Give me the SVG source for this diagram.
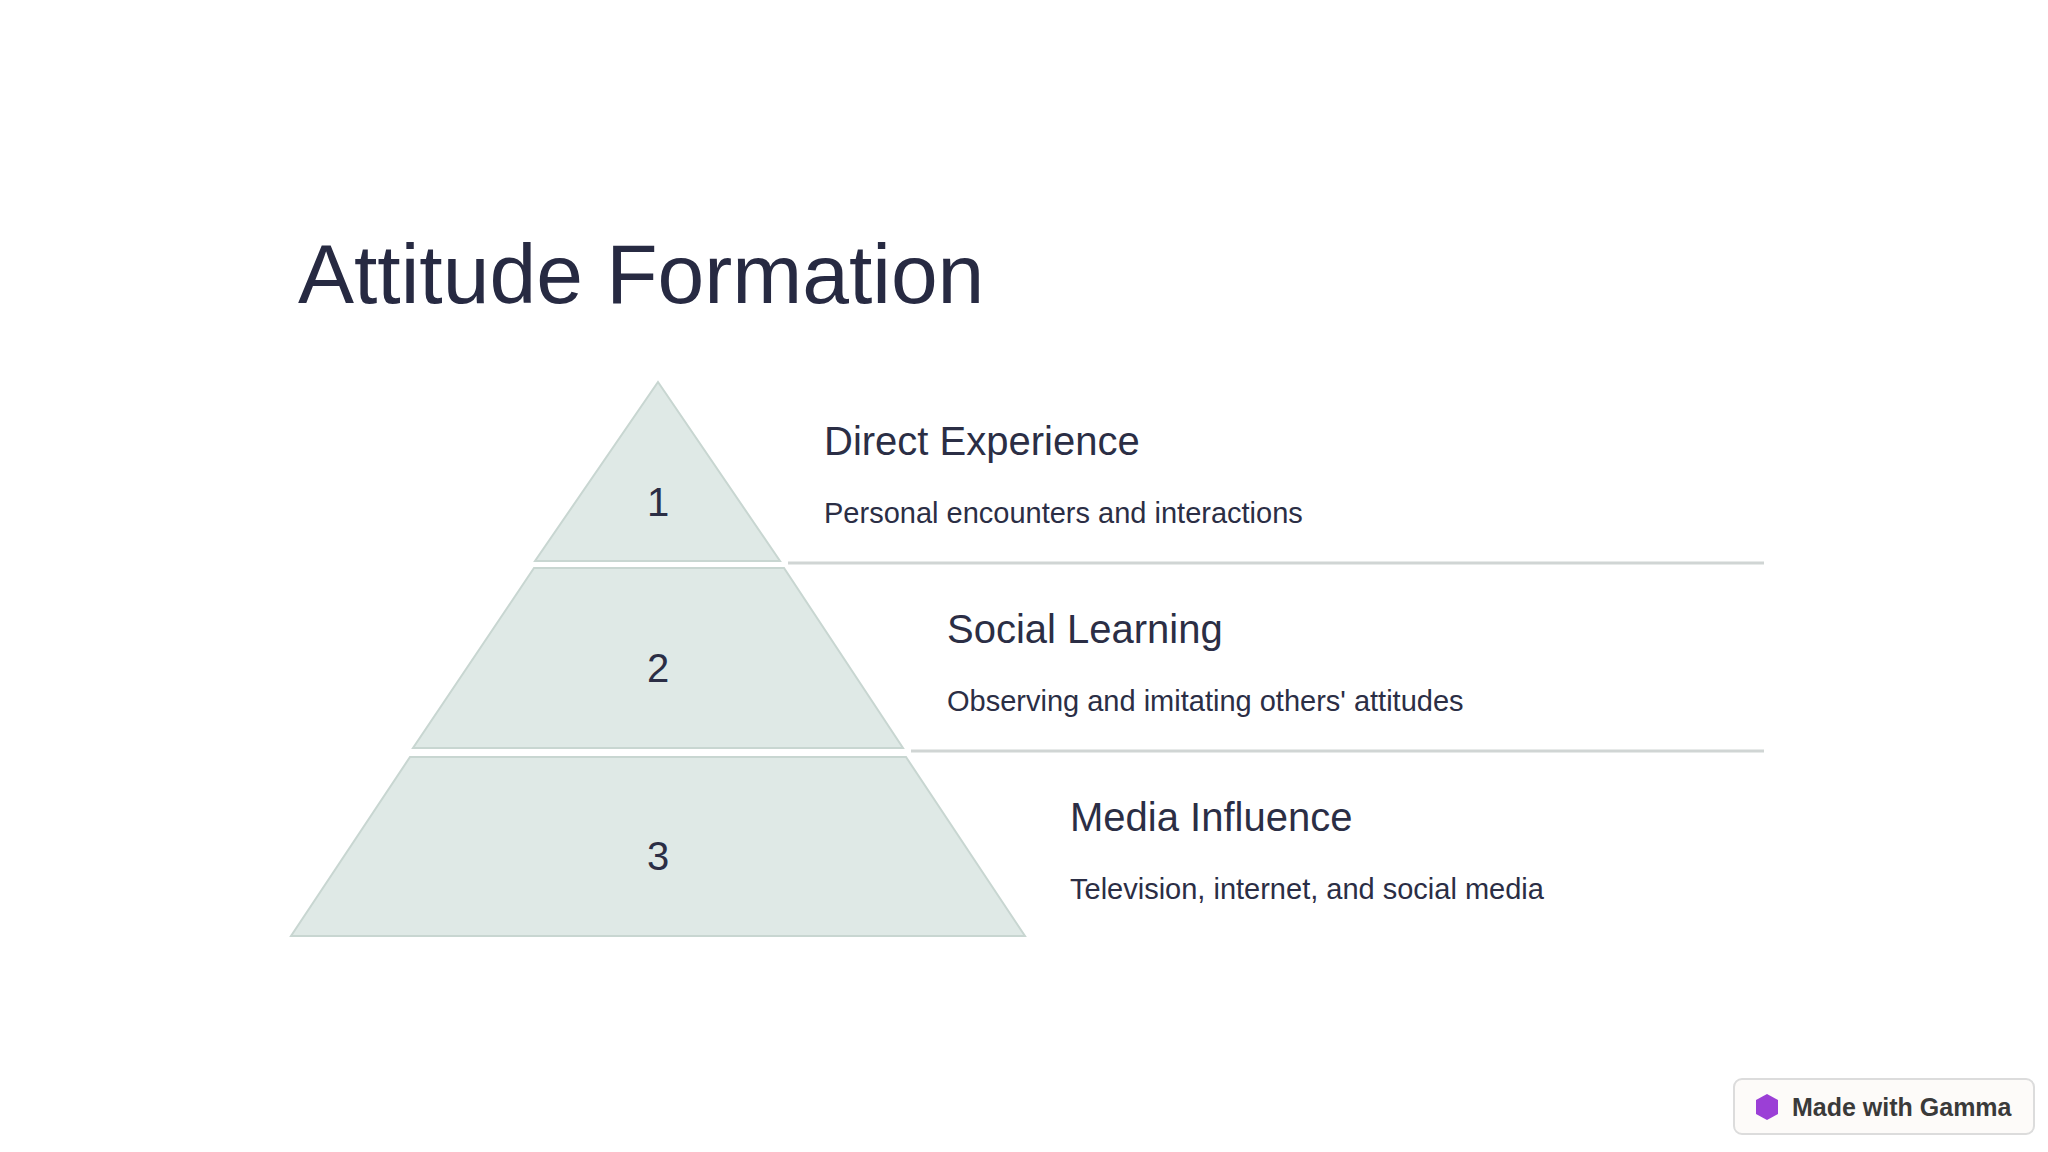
<svg xmlns="http://www.w3.org/2000/svg" width="2048" height="1152" viewBox="0 0 2048 1152">
<style>
.tier{fill:#dfe9e6;stroke:#c8d6d1;stroke-width:2}
.num{font-family:"Liberation Sans",Arial,sans-serif;font-size:40px;fill:#2b2e45;text-anchor:middle}
.h{font-family:"Liberation Sans",Arial,sans-serif;font-size:40px;fill:#2b2e45}
.d{font-family:"Liberation Sans",Arial,sans-serif;font-size:29px;fill:#2b2e45}
.sep{stroke:#d0d5d4;stroke-width:3}
</style>
<rect width="2048" height="1152" fill="#ffffff"/>
<text x="298" y="303" font-family="Liberation Sans,Arial,sans-serif" font-size="84" fill="#272a42">Attitude Formation</text>
<g id="tier1"><polygon class="tier" points="658,382 780,561 535,561"/><text class="num" x="658" y="516">1</text></g>
<g id="tier2"><polygon class="tier" points="534,568 784,568 903,748 413,748"/><text class="num" x="658" y="682">2</text></g>
<g id="tier3"><polygon class="tier" points="410,757 906,757 1025,936 291,936"/><text class="num" x="658" y="870">3</text></g>
<g id="connectors"><line class="sep" x1="788" y1="563" x2="1764" y2="563"/><line class="sep" x1="911" y1="751" x2="1764" y2="751"/></g>
<g id="label1"><text class="h" x="824" y="455">Direct Experience</text><text class="d" x="824" y="523">Personal encounters and interactions</text></g>
<g id="label2"><text class="h" x="947" y="643">Social Learning</text><text class="d" x="947" y="711">Observing and imitating others' attitudes</text></g>
<g id="label3"><text class="h" x="1070" y="831">Media Influence</text><text class="d" x="1070" y="899">Television, internet, and social media</text></g>
<g id="badge"><rect x="1734" y="1079" width="300" height="55" rx="8" fill="#fdfbf9" stroke="#dcdcdc" stroke-width="2"/><polygon points="1767,1094 1778,1100 1778,1114 1767,1120 1756,1114 1756,1100" fill="#9b3fd6"/><text x="1792" y="1116" font-family="Liberation Sans,Arial,sans-serif" font-size="25" font-weight="bold" fill="#3a3a3a">Made with Gamma</text></g>
</svg>
